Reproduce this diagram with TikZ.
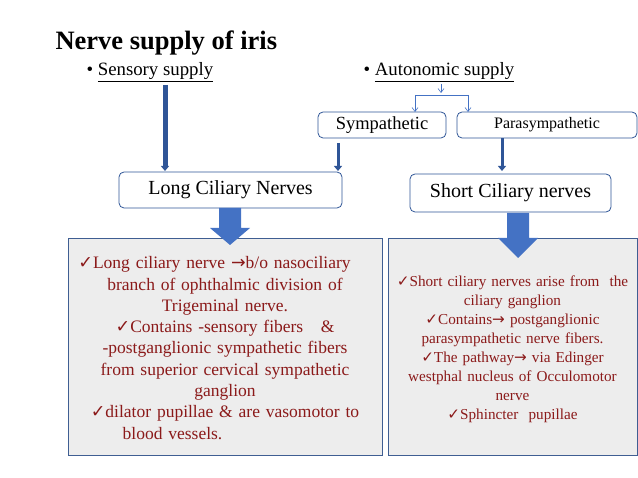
\documentclass[tikz,border=0pt]{standalone}
\usepackage{fontspec}
\setmainfont{Liberation Serif}
\newfontfamily\sym{DejaVu Sans}
\usetikzlibrary{arrows.meta,shapes.arrows}
\definecolor{bl}{HTML}{4472C4}
\definecolor{bd}{HTML}{2F5597}
\definecolor{dr}{HTML}{8B1A1A}
\definecolor{gb}{HTML}{EDEDED}
\begin{document}
\begin{tikzpicture}[x=1pt,y=-1pt,
 rb/.style={draw=bd,rounded corners=5pt,line width=0.8pt,fill=white},
 tb/.style={draw=bd!80!gray,line width=0.7pt,fill=gb},
 thin/.style={draw=bl,line width=0.6pt,-{Straight Barb[length=4pt,width=6pt]}},
 thick/.style={draw=bd,line width=3pt,-{Triangle[length=5pt,width=8pt]}},
 big/.style={fill=bl,draw=none}]
\useasboundingbox (0,0) rectangle (638,478);
\node[anchor=west,font=\bfseries\fontsize{26.5}{30}\selectfont] (title) at (52,43) {Nerve supply of iris};
\node[anchor=west,font=\fontsize{18.8}{22}\selectfont] (sens) at (83,72) {\textbullet\ \underline{Sensory supply}};
\node[anchor=west,font=\fontsize{18.8}{22}\selectfont] (auto) at (360,72) {\textbullet\ \underline{Autonomic supply}};
\node[rb,minimum width=128pt,minimum height=26pt,font=\fontsize{18.5}{20}\selectfont] (sym) at (382,125) {Sympathetic};
\node[rb,minimum width=180pt,minimum height=26pt,font=\fontsize{16}{17}\selectfont] (para) at (547,125) {Parasympathetic};
\node[rb,minimum width=223pt,minimum height=36pt,font=\fontsize{20}{21}\selectfont] (lcn) at (230.5,190) {Long Ciliary Nerves};
\node[rb,minimum width=201pt,minimum height=38pt,font=\fontsize{20}{21}\selectfont] (scn) at (510.5,193) {Short Ciliary nerves};
\coordinate (a0) at (441,84);
\coordinate (a1) at (441,95);
\coordinate (b0) at (415,95);
\coordinate (b1) at (468,95);
\draw[thin] (a0) -- (441,93);
\draw[bl,line width=0.6pt] (b0) -- (b1);
\draw[thin] (b0) -- (415,112);
\draw[thin] (b1) -- (468,112);
\coordinate (s0) at (165,85);
\draw[thick,line width=5pt] (s0) -- (165,171);
\draw[thick] (338,143) -- (338,171);
\draw[thick] (para.south -| 502,0) -- (502,171);
\node[tb,minimum width=314pt,minimum height=217pt] (lt) at (225,346.5) {};
\node[tb,minimum width=249pt,minimum height=217pt] (rt) at (512.5,346.5) {};
\fill[big] (219,208) -- (241,208) -- (241,228) -- (250,228) -- (230,245) -- (210,228) -- (219,228) -- cycle;
\fill[big] (507,213) -- (529,213) -- (529,238) -- (538,238) -- (518,258) -- (498,238) -- (507,238) -- cycle;
\node[text=dr,align=center,font=\fontsize{17.5}{21.3}\selectfont,text width=320pt] (ltx) at (225,348) {%
\hspace*{-1.2em}{\sym ✓}Long ciliary nerve {\sym→}b/o nasociliary\\
branch of ophthalmic division of\\
Trigeminal nerve.\\
{\sym ✓}Contains -sensory fibers \ \ \&\\
-postganglionic sympathetic fibers\\
from superior cervical sympathetic\\
ganglion\\
{\sym ✓}dilator pupillae \& are vasomotor to\\
\hspace*{-6em}blood vessels.};
\node[text=dr,align=center,font=\fontsize{15.2}{19}\selectfont,text width=255pt] (rtx) at (512.5,349.5) {%
{\sym ✓}Short ciliary nerves arise from \ the\\
ciliary ganglion\\
{\sym ✓}Contains{\sym→} postganglionic\\
parasympathetic nerve fibers.\\
{\sym ✓}The pathway{\sym→} via Edinger\\
westphal nucleus of Occulomotor\\
nerve\\
{\sym ✓}Sphincter \ pupillae};
\end{tikzpicture}
\end{document}
